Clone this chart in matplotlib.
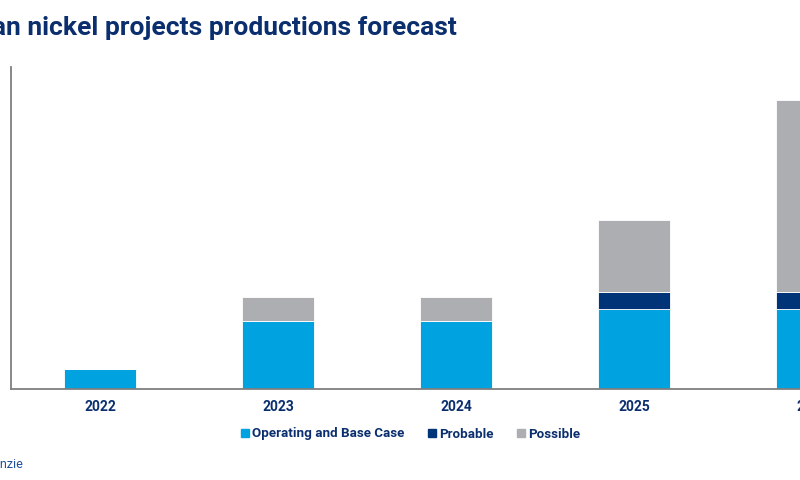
import matplotlib
matplotlib.use("Agg")
import matplotlib.pyplot as plt
import numpy as np
from matplotlib.lines import Line2D

# ---------------------------------------------------------------------------
# Data (kt Ni)
# ---------------------------------------------------------------------------
years = ["2022", "2023", "2024", "2025", "2026"]
operating = [50, 170, 170, 201, 201]
probable = [0, 0, 0, 41, 41]
possible = [0, 60, 60, 181, 481]
series_names = ["Operating and Base Case", "Probable", "Possible"]

TITLE = "Indonesian nickel projects productions forecast"
SOURCE = "Source: Wood Mackenzie"

NAVY = "#0b2f6e"
COLORS = ["#00a3e0", "#003478", "#acaeb1"]

plt.rcParams["font.family"] = ["Roboto", "DejaVu Sans"]

fig = plt.figure(figsize=(8, 4.8), dpi=100)

# the axes runs past the right edge of the canvas, like the cropped original
ax = fig.add_axes([11 / 800, 1 - 389 / 480, 890 / 800, 322 / 480])

x = np.arange(len(years))
width = 0.4
bottom = np.zeros(len(years))
for vals, color in zip([operating, probable, possible], COLORS):
    ax.bar(x, vals, width, bottom=bottom, color=color,
           edgecolor="white", linewidth=0.6)
    bottom += np.array(vals)

ax.set_xlim(-0.5, len(years) - 0.5)
ax.set_ylim(0, 805)
ax.set_xticks(x)
ax.set_xticklabels(years, fontsize=10, fontweight="bold", color=NAVY)
ax.tick_params(axis="x", length=0, pad=8)
ax.set_yticks([])

for side in ["top", "right"]:
    ax.spines[side].set_visible(False)
for side in ["left", "bottom"]:
    ax.spines[side].set_color("#7f7f7f")
    ax.spines[side].set_linewidth(1.3)

handles = [Line2D([0], [0], marker="s", linestyle="", markersize=5.5,
                  markerfacecolor=c, markeredgecolor=c) for c in COLORS]
leg = fig.legend(handles, series_names, loc="center", ncol=3,
                 bbox_to_anchor=(410 / 800, 1 - 434 / 480), frameon=False,
                 handletextpad=0.1, columnspacing=1.7, handlelength=0.8,
                 prop={"size": 9.6, "weight": "bold"})
for t in leg.get_texts():
    t.set_color(NAVY)

fig.text(457 / 800, 1 - 35 / 480, TITLE, ha="right", va="baseline",
         fontsize=19, fontweight="bold", color=NAVY)
fig.text(23 / 800, 1 - 465 / 480, SOURCE, ha="right", va="center",
         fontsize=9, color="#1f4f9e")

fig.savefig("out.png", dpi=100)
